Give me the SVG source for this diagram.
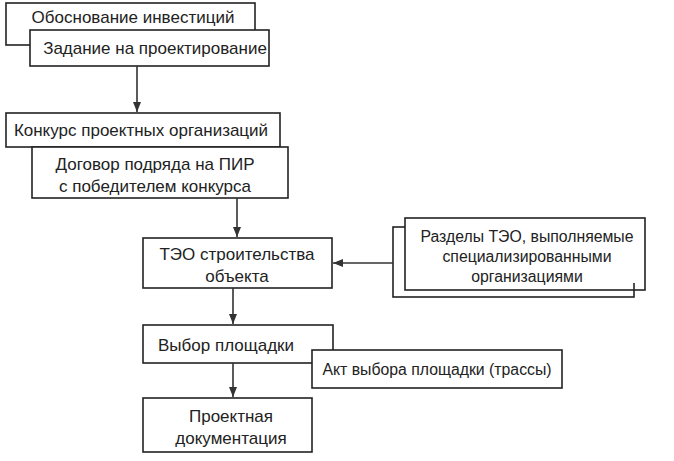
<svg xmlns="http://www.w3.org/2000/svg" width="674" height="461" viewBox="0 0 674 461">
<style>
rect{fill:#fff;stroke:#222;stroke-width:1.6}
text{font-family:"Liberation Sans",Arial,sans-serif;font-size:17px;fill:#222;text-anchor:middle}
.s{font-size:15.8px}
.c line{stroke:#333;stroke-width:1.6}
</style>
<defs><marker id="a" viewBox="0 0 10 10" refX="10" refY="5" markerWidth="10" markerHeight="10" markerUnits="userSpaceOnUse" orient="auto"><path d="M0,1 L10,5 L0,9 Z" fill="#333"/></marker></defs>
<rect width="674" height="461" style="stroke:none"/>
<g id="n1"><rect x="6" y="3" width="249" height="42"/><text x="133" y="23">Обоснование инвестиций</text></g>
<g id="n2"><rect x="30" y="30" width="239" height="36"/><text x="155" y="54">Задание на проектирование</text></g>
<g id="n3"><rect x="6" y="113" width="274" height="34"/><text x="141" y="136">Конкурс проектных организаций</text></g>
<g id="n4"><rect x="32" y="147" width="256" height="51"/><text x="155" y="170">Договор подряда на ПИР</text><text x="155" y="192">с победителем конкурса</text></g>
<g id="n5"><rect x="143" y="238" width="189" height="50"/><text x="237" y="260">ТЭО строительства</text><text x="237" y="282">объекта</text></g>
<g id="n6"><rect x="393" y="227" width="241" height="70"/><rect x="405" y="218" width="240" height="72"/><line x1="634" y1="283" x2="634" y2="290" style="stroke:#222;stroke-width:1.6"/><text class="s" x="527" y="242">Разделы ТЭО, выполняемые</text><text class="s" x="527" y="262">специализированными</text><text class="s" x="527" y="282">организациями</text></g>
<g id="n7"><rect x="143" y="325" width="190" height="38"/><text x="226" y="351">Выбор площадки</text></g>
<g id="n8"><rect x="312" y="350" width="250" height="38"/><text class="s" x="437" y="375">Акт выбора площадки (трассы)</text></g>
<g id="n9"><rect x="143" y="398" width="169" height="54"/><text x="231" y="422">Проектная</text><text x="231" y="444">документация</text></g>
<g class="c">
<line x1="137" y1="66" x2="137" y2="112" marker-end="url(#a)"/>
<line x1="237" y1="198" x2="237" y2="237" marker-end="url(#a)"/>
<line x1="393" y1="263" x2="333" y2="263" marker-end="url(#a)"/>
<line x1="233" y1="288" x2="233" y2="324" marker-end="url(#a)"/>
<line x1="233" y1="363" x2="233" y2="397" marker-end="url(#a)"/>
</g>
</svg>
